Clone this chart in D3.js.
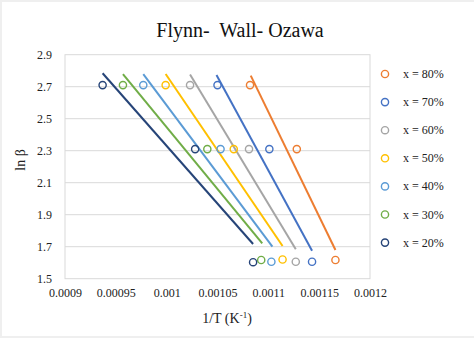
<!DOCTYPE html>
<html><head><meta charset="utf-8">
<script src="https://cdn.jsdelivr.net/npm/d3@7"></script>
<style>html,body{margin:0;padding:0;background:#efefef;}svg{display:block;}</style>
</head><body>
<script>
// Data
const seriesNames = ["x = 80%","x = 70%","x = 60%","x = 50%","x = 40%","x = 30%","x = 20%"];
const seriesColors = ["#ED7D31","#4472C4","#A5A5A5","#FFC000","#5B9BD5","#70AD47","#264478"];
const lnBeta = [2.71, 2.31, 1.61];
const invT80 = [0.001082, 0.001128, 0.001166];
const invT70 = [0.001050, 0.001101, 0.001143];
const invT60 = [0.001023, 0.001081, 0.001127];
const invT50 = [0.000999, 0.001066, 0.001114];
const invT40 = [0.000977, 0.001053, 0.001103];
const invT30 = [0.000957, 0.001040, 0.001093];
const invT20 = [0.000937, 0.001028, 0.001085];
const lnBeta80 = [2.71, 2.31, 1.617];
const lnBeta70 = [2.71, 2.31, 1.606];
const lnBeta60 = [2.71, 2.31, 1.606];
const lnBeta50 = [2.71, 2.31, 1.62];
const lnBeta40 = [2.71, 2.31, 1.606];
const lnBeta30 = [2.71, 2.31, 1.617];
const lnBeta20 = [2.71, 2.31, 1.603];
// fitted line endpoints [x0, x1], [y0, y1]
const lineX80 = [0.0010827, 0.001166], lineY80 = [2.769, 1.679];
const lineX70 = [0.001049, 0.001143],  lineY70 = [2.773, 1.675];
const lineX60 = [0.001023, 0.001127],  lineY60 = [2.776, 1.684];
const lineX50 = [0.000999, 0.001114],  lineY50 = [2.779, 1.704];
const lineX40 = [0.000977, 0.001104],  lineY40 = [2.779, 1.700];
const lineX30 = [0.000957, 0.001094],  lineY30 = [2.779, 1.721];
const lineX20 = [0.000937, 0.001085],  lineY20 = [2.784, 1.717];
const xTicks = [0.0009, 0.00095, 0.001, 0.00105, 0.0011, 0.00115, 0.0012];
const xTickLabels = ["0.0009","0.00095","0.001","0.00105","0.0011","0.00115","0.0012"];
const yTicks = [1.5, 1.7, 1.9, 2.1, 2.3, 2.5, 2.7, 2.9];
const yTickLabels = ["1.5","1.7","1.9","2.1","2.3","2.5","2.7","2.9"];

const pointsX = [invT80, invT70, invT60, invT50, invT40, invT30, invT20];
const pointsY = [lnBeta80, lnBeta70, lnBeta60, lnBeta50, lnBeta40, lnBeta30, lnBeta20];
const linesX = [lineX80, lineX70, lineX60, lineX50, lineX40, lineX30, lineX20];
const linesY = [lineY80, lineY70, lineY60, lineY50, lineY40, lineY30, lineY20];

const W = 474, H = 338;
const svg = d3.select("body").append("svg").attr("width", W).attr("height", H);
svg.append("rect").attr("x", 2).attr("y", 2).attr("width", W - 2).attr("height", H - 4).attr("fill", "#fff");

const x = d3.scaleLinear().domain([0.0009, 0.0012]).range([65, 370]);
const y = d3.scaleLinear().domain([1.5, 2.9]).range([278.7, 54.7]);
const font = "'Liberation Serif','Times New Roman',serif";

// gridlines
svg.append("g").selectAll("line").data(yTicks.slice(1, -1)).join("line")
  .attr("x1", x.range()[0]).attr("x2", x.range()[1])
  .attr("y1", d => y(d)).attr("y2", d => y(d))
  .attr("stroke", "#d9d9d9").attr("stroke-width", 1);
// plot frame
svg.append("rect").attr("x", x.range()[0]).attr("y", y.range()[1])
  .attr("width", x.range()[1] - x.range()[0]).attr("height", y.range()[0] - y.range()[1])
  .attr("fill", "none").attr("stroke", "#d9d9d9").attr("stroke-width", 1);

// axes (labels only)
const xAxis = d3.axisBottom(x).tickValues(xTicks).tickFormat((d, i) => xTickLabels[i]).tickSize(0).tickPadding(10);
const gx = svg.append("g").attr("transform", `translate(0,${y.range()[0]})`).call(xAxis);
gx.select(".domain").remove();
gx.selectAll("text").attr("font-family", font).attr("font-size", 12).attr("fill", "#222");

const yAxis = d3.axisLeft(y).tickValues(yTicks).tickFormat((d, i) => yTickLabels[i]).tickSize(0).tickPadding(13);
const gy = svg.append("g").attr("transform", `translate(${x.range()[0]},0)`).call(yAxis);
gy.select(".domain").remove();
gy.selectAll("text").attr("font-family", font).attr("font-size", 12).attr("fill", "#222");

// lines
seriesNames.forEach((name, i) => {
  svg.append("line")
    .attr("x1", x(linesX[i][0])).attr("y1", y(linesY[i][0]))
    .attr("x2", x(linesX[i][1])).attr("y2", y(linesY[i][1]))
    .attr("stroke", seriesColors[i]).attr("stroke-width", 2);
});
// points
seriesNames.forEach((name, i) => {
  svg.append("g").selectAll("circle").data(pointsX[i].map((v, j) => [v, pointsY[i][j]])).join("circle")
    .attr("cx", d => x(d[0])).attr("cy", d => y(d[1])).attr("r", 3.6)
    .attr("fill", "none").attr("stroke", seriesColors[i]).attr("stroke-width", 1.4);
});

// legend
const leg = svg.append("g");
seriesNames.forEach((name, i) => {
  const ly = 74 + i * 28.1;
  leg.append("circle").attr("cx", 385).attr("cy", ly).attr("r", 3.6)
    .attr("fill", "none").attr("stroke", seriesColors[i]).attr("stroke-width", 1.4);
  leg.append("text").attr("x", 403).attr("y", ly + 4).attr("font-family", font).attr("font-size", 12)
    .attr("fill", "#222").text(name);
});

// title
svg.append("text").attr("x", 240).attr("y", 37).attr("text-anchor", "middle")
  .attr("font-family", font).attr("font-size", 20).attr("fill", "#111")
  .attr("xml:space", "preserve").style("white-space", "pre").text("Flynn-  Wall- Ozawa");

// x axis title
const xt = svg.append("text").attr("x", 227).attr("y", 323).attr("text-anchor", "middle")
  .attr("font-family", font).attr("font-size", 14).attr("fill", "#222");
xt.append("tspan").text("1/T (K");
xt.append("tspan").attr("dy", -5).attr("font-size", 9).text("-1");
xt.append("tspan").attr("dy", 5).text(")");

// y axis title
svg.append("text").attr("transform", "translate(25,160) rotate(-90)").attr("text-anchor", "middle")
  .attr("font-family", font).attr("font-size", 14).attr("fill", "#222").text("ln β");
</script>
</body></html>
